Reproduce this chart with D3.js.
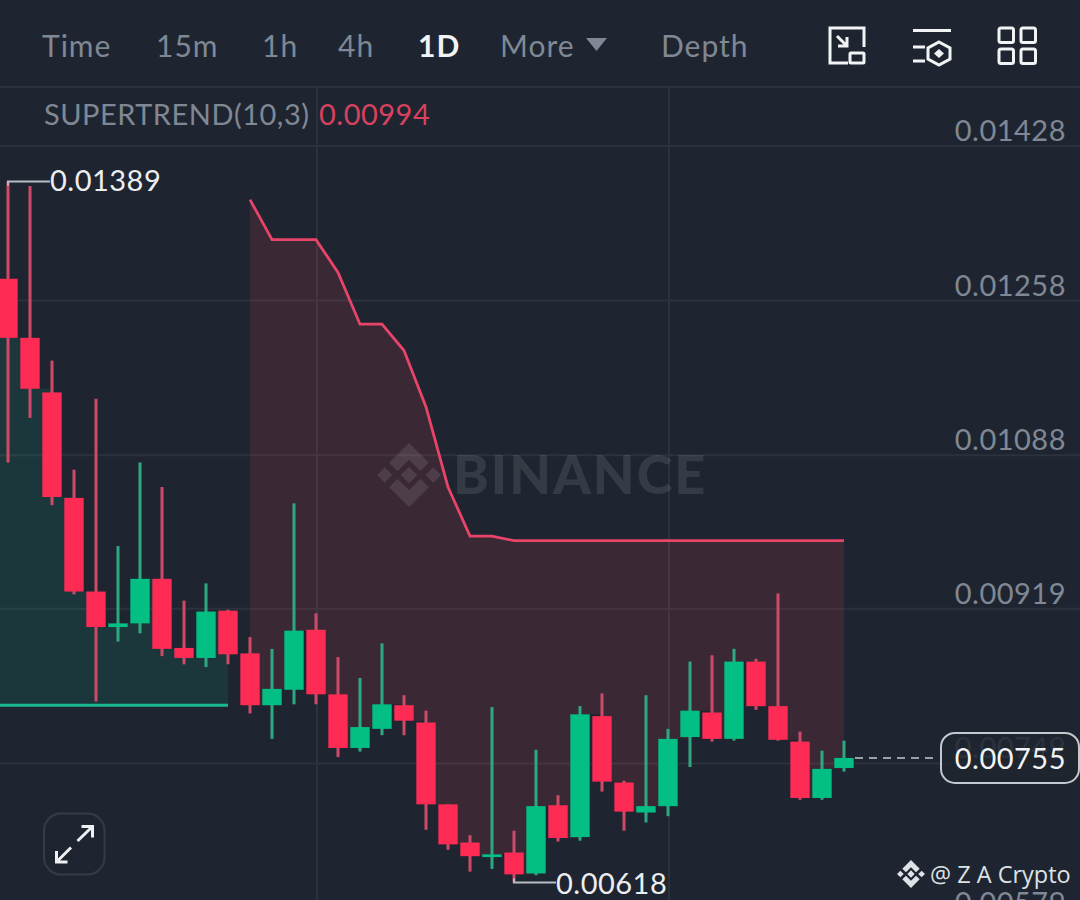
<!DOCTYPE html>
<html>
<head>
<meta charset="utf-8">
<script src="https://cdn.jsdelivr.net/npm/d3@7"></script>
<style>
	html, body { margin: 0; padding: 0; background: #1e2530; overflow: hidden; }
	text { font-family: Lato, "Open Sans", sans-serif; }
</style>
</head>
<body>
<div id="canvas"></div>
<script>
const timeTabs = ["Time", "15m", "1h", "4h", "1D", "More", "Depth"];
const tickValues = [0.01428, 0.01258, 0.01088, 0.00919, 0.00749, 0.00579];

// one entry per daily candle, left to right
const opens = [0.01282, 0.01217, 0.01157, 0.01041, 0.00938, 0.00899, 0.00903, 0.00952, 0.00876, 0.00865, 0.00917, 0.00870, 0.00813, 0.00830, 0.00896, 0.00825, 0.00766, 0.00787, 0.00813, 0.00794, 0.00704, 0.00662, 0.00646, 0.00651, 0.00628, 0.00703, 0.00668, 0.00801, 0.00728, 0.00695, 0.00702, 0.00778, 0.00805, 0.00776, 0.00861, 0.00812, 0.00773, 0.00711, 0.00744];
const highs = [0.01389, 0.01384, 0.01192, 0.01072, 0.01150, 0.00988, 0.01080, 0.01053, 0.00928, 0.00947, 0.00918, 0.00888, 0.00875, 0.01035, 0.00914, 0.00866, 0.00843, 0.00881, 0.00824, 0.00807, 0.00704, 0.00670, 0.00811, 0.00675, 0.00764, 0.00714, 0.00812, 0.00826, 0.00730, 0.00824, 0.00787, 0.00861, 0.00868, 0.00875, 0.00864, 0.00936, 0.00784, 0.00763, 0.00774];
const lows = [0.01080, 0.01129, 0.01033, 0.00935, 0.00817, 0.00883, 0.00892, 0.00867, 0.00858, 0.00855, 0.00858, 0.00804, 0.00776, 0.00814, 0.00814, 0.00756, 0.00762, 0.00780, 0.00780, 0.00676, 0.00654, 0.00630, 0.00633, 0.00618, 0.00626, 0.00663, 0.00664, 0.00718, 0.00675, 0.00684, 0.00691, 0.00745, 0.00773, 0.00774, 0.00808, 0.00774, 0.00709, 0.00709, 0.00740];
const closes = [0.01217, 0.01161, 0.01042, 0.00938, 0.00899, 0.00903, 0.00952, 0.00875, 0.00865, 0.00916, 0.00869, 0.00813, 0.00831, 0.00895, 0.00825, 0.00766, 0.00789, 0.00814, 0.00796, 0.00704, 0.00660, 0.00647, 0.00649, 0.00627, 0.00702, 0.00667, 0.00803, 0.00729, 0.00696, 0.00702, 0.00776, 0.00807, 0.00776, 0.00861, 0.00812, 0.00775, 0.00711, 0.00743, 0.00755];

// supertrend: support part runs off the left edge, resistance part starts at candle 11
const upTrendStart = -1;
const upTrend = [0.00813, 0.00813, 0.00813, 0.00813, 0.00813, 0.00813, 0.00813, 0.00813, 0.00813, 0.00813, 0.00813, 0.00813];
const upTrendCloses = [0.01250].concat(closes.slice(0, 11));
const downTrendStart = 11;
const downTrend = [0.01369, 0.01325, 0.01325, 0.01325, 0.01289, 0.01232, 0.01232, 0.01203, 0.01141, 0.01053, 0.00999, 0.00999, 0.00994, 0.00994, 0.00994, 0.00994, 0.00994, 0.00994, 0.00994, 0.00994, 0.00994, 0.00994, 0.00994, 0.00994, 0.00994, 0.00994, 0.00994, 0.00994];

const lastPrice = 0.00755;
const maxLabel = 0.01389, maxIndex = 0;
const minLabel = 0.00618, minIndex = 23;

const config = {
	bg: "#1e2530",
	grid: "#2c323d",
	red: "#fe2b54",
	redWick: "#cf4a68",
	green: "#03bf84",
	greenWick: "#2ea882",
	muted: "#7f8894",
	axisFont: 29,
	axisSpacing: 0.5
};

const svg = d3.select("#canvas").append("svg")
	.attr("width", 1080)
	.attr("height", 900)
	.style("display", "block");

svg.append("rect").attr("width", 1080).attr("height", 900).attr("fill", config.bg);

const x = d3.scaleLinear().domain([0, 38]).range([8, 844]);
const y = d3.scaleLinear().domain([0.00579, 0.01428]).range([918, 146]);
const bodyWidth = (x(1) - x(0)) * 0.88;
const fmt = d3.format(".5f");

// grid
svg.append("line").attr("x1", 0).attr("x2", 1080).attr("y1", 87).attr("y2", 87).attr("stroke", config.grid).attr("stroke-width", 2);
svg.append("g").selectAll("line").data([317, 669]).join("line")
	.attr("x1", d => d).attr("x2", d => d)
	.attr("y1", 87).attr("y2", 900)
	.attr("stroke", config.grid).attr("stroke-width", 2);
svg.append("g").selectAll("line").data(tickValues).join("line")
	.attr("x1", 0).attr("x2", 1080)
	.attr("y1", d => y(d)).attr("y2", d => y(d))
	.attr("stroke", config.grid).attr("stroke-width", 2);

// supertrend fills
const upRows = upTrend.map((v, i) => ({ i: upTrendStart + i, v, c: upTrendCloses[i] }));
const downRows = downTrend.map((v, i) => ({ i: downTrendStart + i, v, c: closes[downTrendStart + i] }));

// the lower edge holds each close until the next candle
function stepRows(rows) {
	return rows.flatMap((d, k) => k < rows.length - 1
		? [d, { i: rows[k + 1].i, v: rows[k + 1].v, c: d.c }]
		: [d]);
}

const band = d3.area().x(d => x(d.i)).y0(d => y(d.v)).y1(d => y(d.c));
const edge = d3.line().x(d => x(d.i)).y(d => y(d.v));

svg.append("path").datum(stepRows(upRows)).attr("d", band).attr("fill", "rgb(20,190,140)").attr("fill-opacity", 0.12);
svg.append("path").datum(stepRows(downRows)).attr("d", band).attr("fill", "rgb(255,70,90)").attr("fill-opacity", 0.125);

// watermark
function binanceLogo(parent, cx, cy, r, fill, opacity) {
	const shapes = [
		[[0, -50], [31, -19], [18, -6], [0, -24], [-18, -6], [-31, -19]],
		[[0, 50], [31, 19], [18, 6], [0, 24], [-18, 6], [-31, 19]],
		[[0, -13], [13, 0], [0, 13], [-13, 0]],
		[[-38, -12], [-26, 0], [-38, 12], [-50, 0]],
		[[38, -12], [50, 0], [38, 12], [26, 0]]
	];
	parent.append("g")
		.attr("transform", `translate(${cx},${cy}) scale(${r / 50})`)
		.selectAll("polygon").data(shapes).join("polygon")
		.attr("points", d => d.join(" "))
		.attr("fill", fill)
		.attr("fill-opacity", opacity);
}
binanceLogo(svg, 409, 475, 32, "#fff", 0.1);
svg.append("text").text("BINANCE")
	.attr("x", 453).attr("y", 494)
	.attr("font-size", 54).attr("font-weight", 900).attr("letter-spacing", 2)
	.attr("fill", "#fff").attr("fill-opacity", 0.1);

// supertrend lines
svg.append("path").datum(upRows).attr("d", edge).attr("fill", "none").attr("stroke", "#18b98c").attr("stroke-width", 3);
svg.append("path").datum(downRows).attr("d", edge).attr("fill", "none").attr("stroke", "#e8446a").attr("stroke-width", 2.8);

// candles
const candles = closes.map((c, i) => ({ i, o: opens[i], h: highs[i], l: lows[i], c, up: c >= opens[i] }));

svg.append("g").selectAll("line").data(candles).join("line")
	.attr("x1", d => x(d.i)).attr("x2", d => x(d.i))
	.attr("y1", d => y(d.h)).attr("y2", d => y(d.l))
	.attr("stroke", d => d.up ? config.greenWick : config.redWick)
	.attr("stroke-width", 3);

svg.append("g").selectAll("rect").data(candles).join("rect")
	.attr("x", d => x(d.i) - bodyWidth / 2)
	.attr("width", bodyWidth)
	.attr("y", d => y(Math.max(d.o, d.c)))
	.attr("height", d => Math.abs(y(d.o) - y(d.c)))
	.attr("fill", d => d.up ? config.green : config.red);

// price axis, labels sit above their grid line
const axis = d3.axisRight(y).tickValues(tickValues).tickFormat(fmt).tickSize(0).tickPadding(0);
const axisG = svg.append("g").attr("transform", "translate(1066,0)").call(axis);
axisG.select(".domain").remove();
axisG.selectAll("text")
	.attr("x", 0).attr("dy", "-0.19em")
	.attr("text-anchor", "end")
	.attr("font-size", config.axisFont)
	.attr("letter-spacing", config.axisSpacing)
	.attr("fill", config.muted)
	.style("font-family", "Lato, sans-serif");

// last price
const lastY = y(lastPrice);
svg.append("line")
	.attr("x1", x(38) + 11).attr("x2", 938)
	.attr("y1", lastY).attr("y2", lastY)
	.attr("stroke", "#9aa0a8").attr("stroke-width", 2).attr("stroke-dasharray", "8,6");
svg.append("rect")
	.attr("x", 941).attr("y", lastY - 25).attr("width", 138).attr("height", 50).attr("rx", 14)
	.attr("fill", config.bg).attr("fill-opacity", 0.86)
	.attr("stroke", "#c4c9cf").attr("stroke-width", 2);
svg.append("text").text(fmt(lastPrice))
	.attr("x", 1066).attr("y", lastY + 11)
	.attr("text-anchor", "end").attr("font-size", config.axisFont).attr("letter-spacing", config.axisSpacing).attr("fill", "#f2f3f5");

// high / low markers
svg.append("path")
	.attr("d", `M${x(maxIndex)},${y(maxLabel) + 4}V${y(maxLabel)}H50`)
	.attr("fill", "none").attr("stroke", "#b8bcc2").attr("stroke-width", 2);
svg.append("text").text(fmt(maxLabel))
	.attr("x", 50).attr("y", y(maxLabel) + 10)
	.attr("font-size", config.axisFont).attr("letter-spacing", config.axisSpacing).attr("fill", "#eceef0");
svg.append("path")
	.attr("d", `M${x(minIndex)},${y(minLabel) - 4}V${y(minLabel)}H556`)
	.attr("fill", "none").attr("stroke", "#b8bcc2").attr("stroke-width", 2);
svg.append("text").text(fmt(minLabel))
	.attr("x", 556).attr("y", y(minLabel) + 11)
	.attr("font-size", config.axisFont).attr("letter-spacing", config.axisSpacing).attr("fill", "#eceef0");

// legend
svg.append("text").text("SUPERTREND(10,3)")
	.attr("x", 44).attr("y", 125).attr("font-size", config.axisFont).attr("letter-spacing", config.axisSpacing).attr("fill", config.muted);
svg.append("text").text(fmt(downTrend[downTrend.length - 1]))
	.attr("x", 319).attr("y", 125).attr("font-size", config.axisFont).attr("letter-spacing", config.axisSpacing).attr("fill", "#d8415f");

// header tabs
const tabX = [42, 156, 262, 338, 418, 500, 661];
svg.append("g").selectAll("text").data(timeTabs).join("text")
	.text(d => d)
	.attr("x", (d, i) => tabX[i])
	.attr("y", 56.5)
	.attr("font-size", 30)
	.attr("letter-spacing", 1)
	.attr("font-weight", d => d === "1D" ? 700 : 400)
	.attr("fill", d => d === "1D" ? "#f2f3f5" : config.muted);
svg.append("path").attr("d", "M586,38H607L596.5,51Z").attr("fill", "#7f8894");

// toolbar icons
const icons = svg.append("g").attr("fill", "none").attr("stroke", "#f2f3f5").attr("stroke-width", 3);
icons.append("path").attr("d", "M848,63H830V28H864V47");
icons.append("rect").attr("x", 850).attr("y", 53).attr("width", 14).attr("height", 10).attr("rx", 1);
icons.append("path").attr("d", "M837,36L846,45M847,37V46H838");
icons.append("path").attr("d", "M913,30.5H951M913,47H925M913,61H925");
icons.append("path").attr("d", "M939,42L950,48V59L939,65L928,59V48Z");
icons.append("path").attr("d", "M939,49L944,53.5L939,58L934,53.5Z").attr("fill", "#f2f3f5").attr("stroke", "none");
icons.selectAll("rect.cell").data([[999, 28], [1021, 28], [999, 49], [1021, 49]]).join("rect")
	.attr("class", "cell")
	.attr("x", d => d[0]).attr("y", d => d[1])
	.attr("width", 14.5).attr("height", 14.5).attr("rx", 2);

// expand button
svg.append("rect")
	.attr("x", 44).attr("y", 813.5).attr("width", 60.5).attr("height", 61).attr("rx", 17)
	.attr("fill", "none").attr("stroke", "#353c48").attr("stroke-width", 2);
svg.append("path")
	.attr("d", "M77.5,841L92.5,826.5M81.5,826.5H92.5V837.5M71,847.5L56.5,862M56.5,851V862H67.5")
	.attr("fill", "none").attr("stroke", "#eef0f2").attr("stroke-width", 3);

// credit
binanceLogo(svg, 911, 874, 14, "#dfe2e5", 1);
svg.append("text").text("@ Z A Crypto")
	.attr("x", 930).attr("y", 883)
	.attr("font-size", 23.5)
	.style("font-family", "'Open Sans', sans-serif")
	.attr("fill", "#dfe2e5");
</script>
</body>
</html>
